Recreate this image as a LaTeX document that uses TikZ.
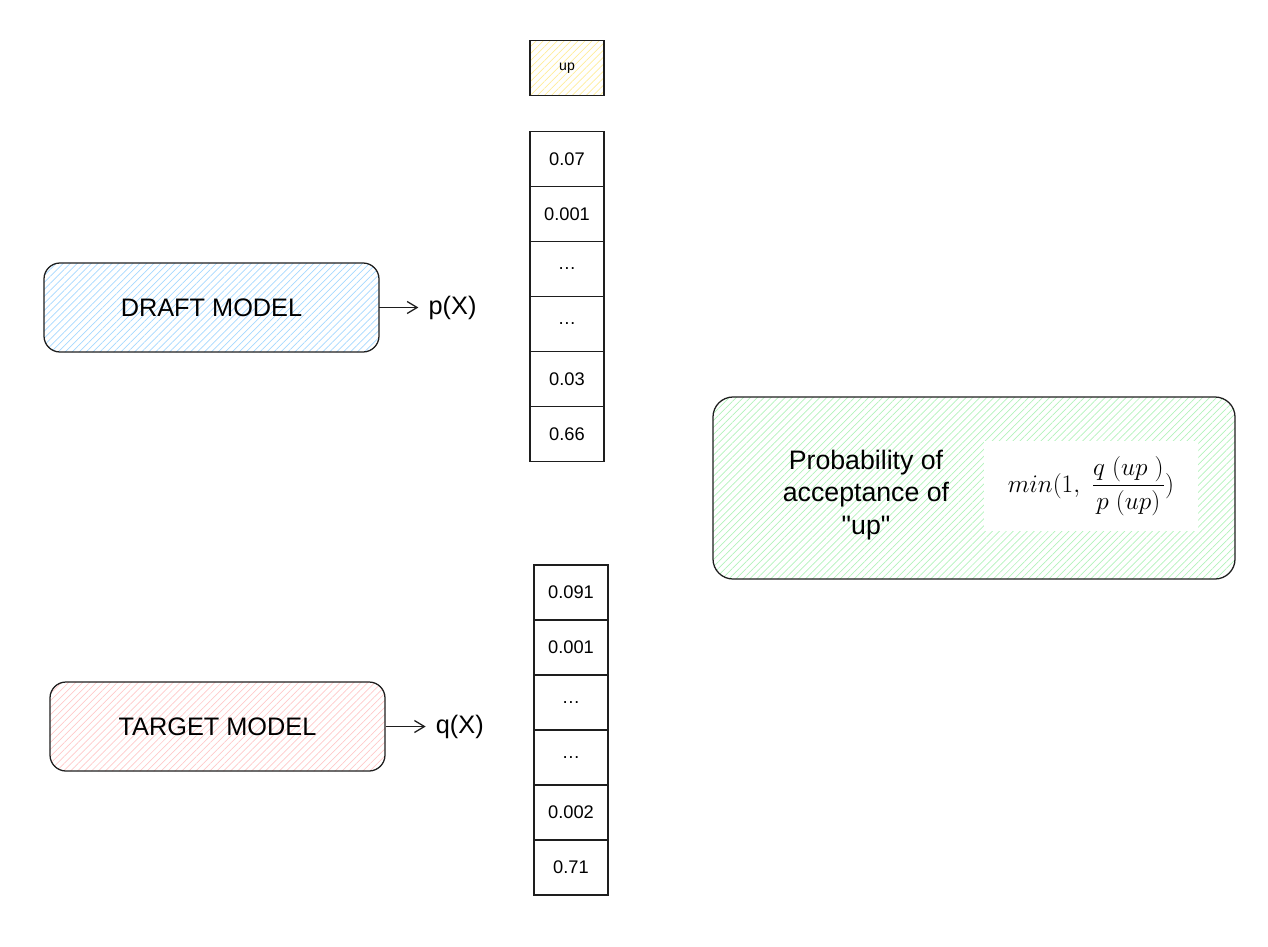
\RequirePackage{fix-cm}
\documentclass[tikz,border=0pt]{standalone}
\usepackage{amsmath}
\usepackage{fontspec}
\setmainfont{Liberation Sans}[Ligatures=TeXOff]
\usetikzlibrary{positioning,patterns.meta,arrows.meta}
\definecolor{draftblue}{HTML}{A5D8FF}
\definecolor{targetred}{HTML}{FFC9C9}
\definecolor{acceptgreen}{HTML}{B2F2BB}
\definecolor{tokenyellow}{HTML}{FFEC99}
\definecolor{ink}{HTML}{1E1E1E}

\tikzset{
  hatch/.style={pattern={Lines[angle=45,distance=3.5pt,line width=0.5pt]}, pattern color=#1},
  model/.style={draw=ink, line width=0.9pt, rounded corners=4mm,
    minimum width=83.75mm, minimum height=22.25mm, font=\fontsize{18}{21}\selectfont},
  cell/.style={draw=ink, line width=0.9pt, minimum width=18.5mm, minimum height=13.75mm,
    font=\fontsize{13}{15}\selectfont},
  dist/.style={inner xsep=2.5mm, inner ysep=2pt, font=\fontsize{18}{21}\selectfont},
  emit/.style={-{Straight Barb[length=2.5mm,width=3mm]}, draw=ink, line width=0.9pt},
}

\begin{document}
\begin{tikzpicture}[x=0.25mm, y=-0.25mm]
        \useasboundingbox (0,0) rectangle (1268,946);
        % Draft model
        \node[model, hatch=draftblue] (draft) at (211.5,307.5) {DRAFT MODEL};
        \node[dist, right=9.75mm of draft] (px) {p(X)};
        \draw[emit] (draft) -- (px);
        % Target model
        \node[model, hatch=targetred] (target) at (217.5,726.5) {TARGET MODEL};
        \node[dist, right=10mm of target] (qx) {q(X)};
        \draw[emit] (target) -- (qx);
        % Sampled token
        \node[cell, hatch=tokenyellow, font=\fontsize{10}{12}\selectfont] (tok) at (567,68) {up};
        % Draft probabilities
        \foreach \v [count=\i] in {0.07,0.001,\dots,\dots,0.03,0.66}
          \node[cell] (p\i) at (567,{159+(\i-1)*55}) {\v};
        % Target probabilities
        \foreach \v [count=\i] in {0.091,0.001,\dots,\dots,0.002,0.71}
          \node[cell] (q\i) at (571,{592.5+(\i-1)*55}) {\v};
        % Acceptance
        \node[draw=ink, line width=0.9pt, rounded corners=5mm, minimum width=130.5mm,
          minimum height=45.5mm, hatch=acceptgreen] (accept) at (974,488) {};
        \node[align=center, font=\fontsize{19}{23}\selectfont] (acctext) at (866,495)
          {Probability of\\acceptance of\\"up"};
        \node[fill=white, minimum width=53.5mm, minimum height=22.5mm,
          font=\fontsize{18}{21}\selectfont] (ratio) at (1091,486)
          {$min(1,\;\dfrac{q\ (up\ )}{p\ (up)})$};
\end{tikzpicture}
\end{document}
